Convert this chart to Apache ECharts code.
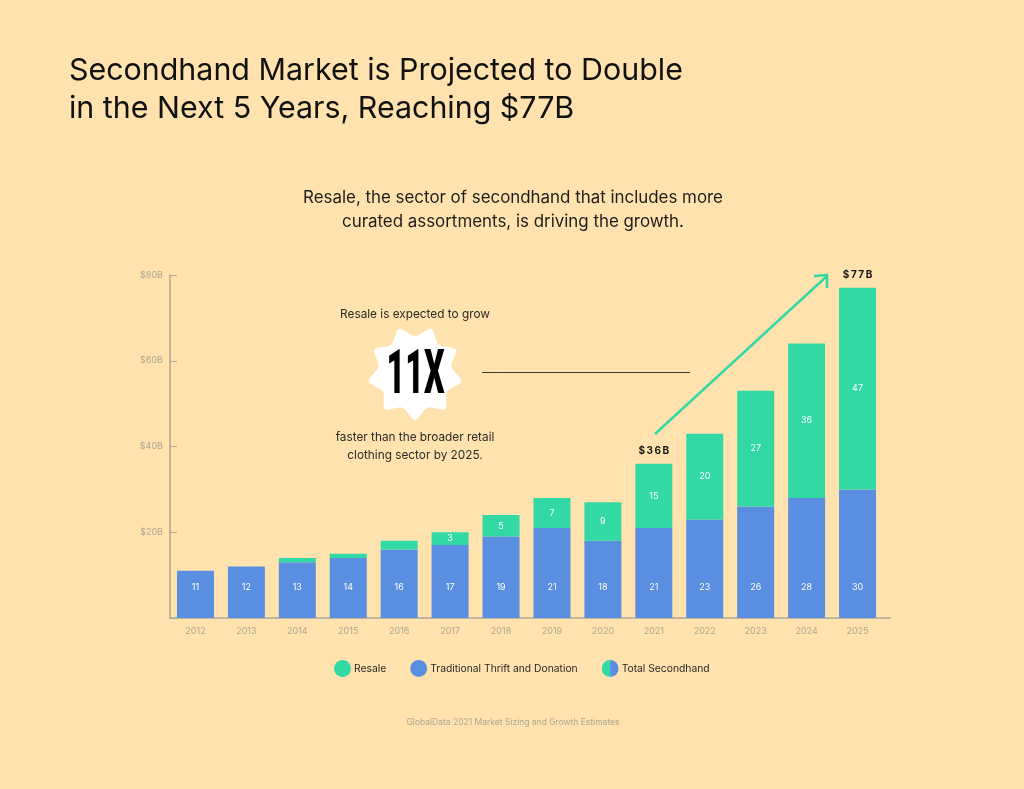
<!DOCTYPE html>
<html>
<head>
<meta charset="utf-8">
<title>Secondhand Market</title>
<script src="https://cdn.jsdelivr.net/npm/echarts@6/dist/echarts.min.js"></script>
<style>
html, body { margin: 0; padding: 0; background: #FFE2AD; }
#main { width: 1024px; height: 789px; }
</style>
</head>
<body>
<div id="main"></div>
<script>
var years = ['2012','2013','2014','2015','2016','2017','2018','2019','2020','2021','2022','2023','2024','2025'];
var traditional = [11,12,13,14,16,17,19,21,18,21,23,26,28,30];
var resale = [0,0,1,1,2,3,5,7,9,15,20,27,36,47];
var totalLabels = [null,null,null,null,null,null,null,null,null,36,null,null,null,77];

var fontName = 'Inter';
var teal = '#33D9A4';
var blue = '#5A8EE0';
var greyText = '#ABA692';

// half and half legend icon
var halfIcon = 'image://data:image/svg+xml;utf8,' + encodeURIComponent(
    '<svg xmlns="http://www.w3.org/2000/svg" width="34" height="34">' +
    '<path d="M17 0A17 17 0 0 0 17 34Z" fill="' + teal + '"/>' +
    '<path d="M17 0A17 17 0 0 1 17 34Z" fill="' + blue + '"/></svg>');

// star behind 11X
function starPoints(cx, cy, outer, inner, count) {
    var pts = [];
    for (var i = 0; i < count * 2; i++) {
        var r = i % 2 == 0 ? outer : inner;
        var a = Math.PI / 2 + i * Math.PI / count;
        pts.push([cx + r * Math.cos(a), cy + r * Math.sin(a)]);
    }
    return pts;
}

function noteText(str, y) {
    return {
        type: 'text', x: 415, y: y,
        style: { text: str, fill: '#2b2a26', font: '11.8px ' + fontName, textAlign: 'center', textVerticalAlign: 'middle' }
    };
}

var chart = echarts.init(document.getElementById('main'));
chart.setOption({
    backgroundColor: '#FFE2AD',
    animation: false,
    title: [{
        text: 'Secondhand Market is Projected to Double\nin the Next 5 Years, Reaching $77B',
        left: 64, top: 47,
        textStyle: { fontFamily: fontName, fontSize: 30.4, fontWeight: 400, color: '#111', lineHeight: 38 }
    }, {
        text: 'Resale, the sector of secondhand that includes more\ncurated assortments, is driving the growth.',
        left: 508, top: 181, textAlign: 'center',
        textStyle: { fontFamily: fontName, fontSize: 16.9, fontWeight: 400, color: '#1d1d1b', lineHeight: 24, align: 'center' }
    }, {
        text: 'GlobalData 2021 Market Sizing and Growth Estimates',
        left: 508, top: 713, textAlign: 'center',
        textStyle: { fontFamily: fontName, fontSize: 8.5, fontWeight: 400, color: greyText }
    }],
    legend: {
        left: 329, top: 655,
        itemWidth: 17, itemHeight: 17, itemGap: 24,
        data: [
            { name: 'Resale', icon: 'circle' },
            { name: 'Traditional Thrift and Donation', icon: 'circle' },
            { name: 'Total Secondhand', icon: halfIcon }
        ],
        textStyle: { fontFamily: fontName, fontSize: 10.3, color: '#2b2a26', padding: [0, 0, 0, -2] }
    },
    grid: { left: 170, top: 275, width: 713, bottom: 171 },
    xAxis: {
        type: 'category',
        data: years,
        axisLine: { lineStyle: { color: '#ADA899', width: 1.5 } },
        axisTick: { show: false },
        axisLabel: { color: greyText, fontFamily: fontName, fontSize: 9, margin: 9 }
    },
    yAxis: {
        type: 'value',
        min: 0, max: 80, interval: 20,
        splitLine: { show: false },
        axisLine: { show: true, lineStyle: { color: '#ADA899', width: 1.5 } },
        axisTick: { show: true, inside: true, length: 7, lineStyle: { color: '#ADA899', width: 1 } },
        axisLabel: {
            color: greyText, fontFamily: fontName, fontSize: 9, margin: 7,
            formatter: function (v) { return v == 0 ? '' : '$' + v + 'B'; }
        }
    },
    series: [{
        name: 'Traditional Thrift and Donation',
        type: 'bar',
        stack: 'total',
        barWidth: 37,
        itemStyle: { color: blue },
        label: { show: true, position: 'insideBottom', distance: 26, color: '#fff', fontFamily: fontName, fontSize: 9 },
        data: traditional
    }, {
        name: 'Resale',
        type: 'bar',
        stack: 'total',
        barWidth: 37,
        itemStyle: { color: teal },
        label: {
            show: true, position: 'inside', color: '#fff', fontFamily: fontName, fontSize: 9,
            formatter: function (p) { return p.value >= 3 ? p.value : ''; }
        },
        data: resale
    }, {
        name: 'Total Secondhand',
        type: 'line',
        symbol: 'circle',
        symbolSize: 1,
        showAllSymbol: true,
        lineStyle: { opacity: 0 },
        itemStyle: { color: 'rgba(0,0,0,0)' },
        label: {
            show: true, position: 'top', distance: 7, color: '#111',
            fontFamily: fontName, fontSize: 10, fontWeight: 'bold',
            formatter: function (p) { return '$\u2009' + String(p.value).split('').join('\u2009') + '\u2009B'; }
        },
        data: totalLabels
    }],
    graphic: [
        // axis runs a little past the last bar
        { type: 'line', shape: { x1: 883, y1: 618, x2: 891, y2: 618 }, style: { stroke: '#ADA899', lineWidth: 1.5 } },
        noteText('Resale is expected to grow', 314),
        noteText('faster than the broader retail', 437),
        noteText('clothing sector by 2025.', 455),
        { type: 'polygon', shape: { points: starPoints(415, 373, 47, 37, 9), smooth: 0.3 }, style: { fill: '#fff' } },
        {
            type: 'text', x: 415.5, y: 377, scaleX: 0.52,
            style: { text: '11X', fill: '#000', font: '900 62px Roboto', textAlign: 'center', textVerticalAlign: 'middle' }
        },
        { type: 'line', shape: { x1: 482, y1: 372.5, x2: 690, y2: 372.5 }, style: { stroke: '#3a3833', lineWidth: 1 } },
        // growth arrow
        { type: 'line', shape: { x1: 655, y1: 434, x2: 827, y2: 276 }, style: { stroke: teal, lineWidth: 2.5 } },
        { type: 'polyline', shape: { points: [[814, 276], [827, 275], [827, 288]] }, style: { stroke: teal, lineWidth: 2.5, fill: null } }
    ]
});
</script>
</body>
</html>
